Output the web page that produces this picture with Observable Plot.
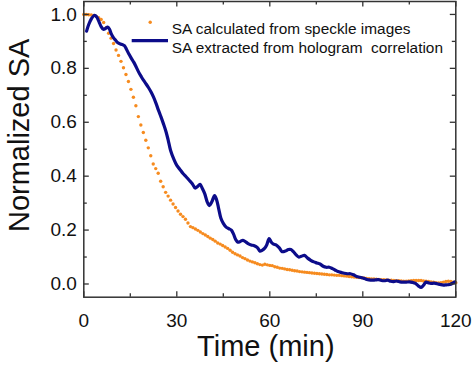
<!DOCTYPE html>
<html>
<head>
<meta charset="utf-8">
<script src="https://cdn.jsdelivr.net/npm/d3@7"></script>
<script src="https://cdn.jsdelivr.net/npm/@observablehq/plot@0.6"></script>
<style>
  html, body { margin: 0; padding: 0; background: #fff; }
  svg text { white-space: pre; }
</style>
</head>
<body>
<div id="chart"></div>
<script>
// ---- data ----
const seriesNames = ["SA calculated from speckle images", "SA extracted from hologram  correlation"];

// speckle series: sampled every 0.8 min starting at 0
const speckleStart = 0;
const speckleStep = 0.8;
const speckleValues = [
  1.000,1.000,0.999,0.998,0.996,0.993,0.988,0.981,0.970,0.951,
  0.930,0.912,0.892,0.868,0.848,0.826,0.802,0.777,0.751,0.722,
  0.693,0.661,0.621,0.590,0.562,0.533,0.505,0.476,0.445,0.428,
  0.411,0.381,0.361,0.340,0.326,0.311,0.297,0.284,0.271,0.259,
  0.250,0.240,0.226,0.213,0.209,0.204,0.199,0.193,0.187,0.182,
  0.176,0.170,0.165,0.159,0.152,0.148,0.143,0.137,0.132,0.125,
  0.118,0.112,0.108,0.104,0.098,0.094,0.089,0.085,0.082,0.079,
  0.075,0.072,0.070,0.073,0.071,0.069,0.068,0.064,0.062,0.059,
  0.058,0.056,0.054,0.053,0.051,0.049,0.048,0.046,0.045,0.044,
  0.043,0.042,0.041,0.040,0.039,0.038,0.037,0.036,0.035,0.034,
  0.034,0.033,0.032,0.032,0.031,0.030,0.029,0.028,0.027,0.026,
  0.025,0.024,0.023,0.022,0.021,0.020,0.019,0.019,0.018,0.017,
  0.016,0.016,0.015,0.014,0.014,0.013,0.012,0.012,0.011,0.010,
  0.010,0.011,0.012,0.013,0.013,0.013,0.013,0.011,0.010,0.009,
  0.008,0.007,0.005,0.004,0.005,0.007,0.009,0.010,0.009,0.007,
  0.005
];

// hologram series
const hologramTimes = [
  0.9,1.5,2.5,3.5,4.2,5.0,5.6,6.3,7.0,7.7,8.3,8.8,9.5,10.2,11.0,11.8,12.5,13.1,13.8,14.5,
  15.3,16.1,16.9,17.7,18.5,19.3,20.1,20.9,21.7,22.5,23.3,24.1,24.9,25.7,26.5,27.2,28.0,29.0,30.0,31.0,
  32.0,33.0,34.0,35.0,35.9,36.7,37.5,38.2,39.0,39.8,40.5,41.3,42.2,42.9,43.5,44.2,45.0,46.0,46.8,47.6,
  48.3,49.0,49.7,50.5,51.3,52.0,53.0,54.0,55.0,56.0,56.8,57.5,58.3,59.0,59.8,60.5,61.2,62.0,63.0,64.0,
  65.0,66.0,66.8,67.6,68.5,69.3,70.2,71.2,72.2,73.2,74.2,75.2,76.2,77.2,78.2,79.2,80.2,81.0,82.0,83.0,
  84.0,85.0,86.0,87.0,88.0,89.0,90.0,91.0,92.0,93.0,94.0,95.0,96.0,97.0,98.0,99.0,100.0,101.0,102.0,103.0,
  104.0,105.0,106.0,107.0,108.0,108.8,109.6,110.4,111.2,112.0,113.0,114.0,115.0,116.0,117.0,118.0,119.0,119.7
];
const hologramValues = [
  0.938,0.960,0.985,0.997,0.990,0.970,0.955,0.945,0.948,0.953,0.945,0.930,0.915,0.905,0.895,0.890,0.888,0.884,0.870,0.854,
  0.838,0.823,0.805,0.786,0.770,0.755,0.742,0.728,0.712,0.693,0.670,0.644,0.620,0.594,0.566,0.535,0.495,0.464,0.440,0.425,
  0.410,0.398,0.385,0.372,0.356,0.362,0.370,0.355,0.335,0.305,0.291,0.305,0.328,0.310,0.280,0.245,0.225,0.210,0.205,0.200,
  0.185,0.165,0.155,0.158,0.162,0.158,0.150,0.145,0.142,0.135,0.122,0.125,0.132,0.145,0.168,0.155,0.148,0.145,0.135,0.120,
  0.122,0.128,0.128,0.120,0.108,0.100,0.103,0.106,0.096,0.088,0.082,0.078,0.074,0.066,0.062,0.062,0.057,0.052,0.046,0.043,
  0.040,0.038,0.038,0.034,0.028,0.025,0.022,0.018,0.015,0.014,0.015,0.016,0.013,0.012,0.014,0.010,0.009,0.011,0.008,0.007,
  0.007,0.008,0.006,0.002,-0.008,-0.013,-0.004,0.007,0.004,0.002,0.003,0.001,-0.002,-0.004,-0.003,-0.002,0.003,0.008
];

const xMajorTicks = [0, 30, 60, 90, 120];
const xMinorTicks = [15, 45, 75, 105];
const yMajorTicks = [0.0, 0.2, 0.4, 0.6, 0.8, 1.0];
const yMinorTicks = [0.1, 0.3, 0.5, 0.7, 0.9];
const xTitle = "Time (min)";
const yTitle = "Normalized SA";

// ---- build ----
const speckle = speckleValues.map((v, i) => ({t: speckleStart + i * speckleStep, v}));
const hologram = hologramTimes.map((t, i) => ({t, v: hologramValues[i]}));

const W = 474, H = 367;
const mL = 83.3, mR = 18.7, mT = 1, mB = 70.3;
const plotH = H - mT - mB;
const plotW = W - mL - mR;
const orange = "#f68b1f";
const navy = "#0c0c8a";
const axisColor = "#333";
const font = "'Liberation Sans', Arial, sans-serif";
const majorLen = 5.5, minorLen = 3.5;

// legend line sample (drawn in frame pixel space, it is not data)
function legendLine(index, scales, values, dims) {
  const g = document.createElementNS("http://www.w3.org/2000/svg", "line");
  g.setAttribute("x1", dims.marginLeft + 48.4);
  g.setAttribute("x2", dims.marginLeft + 84.7);
  g.setAttribute("y1", dims.marginTop + 39.7);
  g.setAttribute("y2", dims.marginTop + 39.7);
  g.setAttribute("stroke", navy);
  g.setAttribute("stroke-width", 3.2);
  return g;
}

const chart = Plot.plot({
  width: W,
  height: H,
  marginLeft: mL,
  marginRight: mR,
  marginTop: mT,
  marginBottom: mB,
  style: {fontFamily: font, color: "#111", background: "#fff"},
  x: {domain: [0, 120]},
  y: {domain: [-0.049, 1.048]},
  marks: [
    // data
    Plot.dot(speckle, {x: "t", y: "v", r: 1.7, fill: orange, stroke: "none"}),
    Plot.line(hologram, {x: "t", y: "v", stroke: navy, strokeWidth: 3.2, curve: "catmull-rom"}),
    // inward ticks bottom/top
    Plot.tickX(xMajorTicks, {x: d => d, insetTop: plotH - majorLen, stroke: axisColor, strokeWidth: 1.3}),
    Plot.tickX(xMinorTicks, {x: d => d, insetTop: plotH - minorLen, stroke: axisColor, strokeWidth: 1.3}),
    Plot.tickX(xMajorTicks, {x: d => d, insetBottom: plotH - majorLen, stroke: axisColor, strokeWidth: 1.3}),
    Plot.tickX(xMinorTicks, {x: d => d, insetBottom: plotH - minorLen, stroke: axisColor, strokeWidth: 1.3}),
    // inward ticks left/right
    Plot.tickY(yMajorTicks, {y: d => d, insetRight: plotW - majorLen, stroke: axisColor, strokeWidth: 1.3}),
    Plot.tickY(yMinorTicks, {y: d => d, insetRight: plotW - minorLen, stroke: axisColor, strokeWidth: 1.3}),
    Plot.tickY(yMajorTicks, {y: d => d, insetLeft: plotW - majorLen, stroke: axisColor, strokeWidth: 1.3}),
    Plot.tickY(yMinorTicks, {y: d => d, insetLeft: plotW - minorLen, stroke: axisColor, strokeWidth: 1.3}),
    Plot.frame({stroke: axisColor, strokeWidth: 1.5}),
    // axes labels
    Plot.axisX({ticks: xMajorTicks, tickSize: 0, tickPadding: 16, fontSize: 19, label: null, tickFormat: d3.format("d")}),
    Plot.axisY({ticks: yMajorTicks, tickSize: 0, tickPadding: 7, fontSize: 19, label: null, tickFormat: d3.format(".1f")}),
    Plot.text([xTitle], {text: d => d, frameAnchor: "bottom", textAnchor: "middle", dx: -4, dy: 59, fontSize: 29, fill: "#111"}),
    Plot.text([yTitle], {text: d => d, frameAnchor: "left", textAnchor: "middle", rotate: -90, dx: -64.5, dy: -14, fontSize: 29, fill: "#111"}),
    // legend
    Plot.dot([seriesNames[0]], {frameAnchor: "top-left", dx: 66.4, dy: 20.7, r: 1.7, fill: orange, stroke: "none"}),
    Plot.text([seriesNames[0]], {text: d => d, frameAnchor: "top-left", dx: 88, dy: 22, textAnchor: "start", fontSize: 15.4, fill: "#111"}),
    legendLine,
    Plot.text([seriesNames[1]], {text: d => d, frameAnchor: "top-left", dx: 88, dy: 40.5, textAnchor: "start", fontSize: 15.4, fill: "#111"})
  ]
});
document.getElementById("chart").appendChild(chart);
</script>
</body>
</html>
